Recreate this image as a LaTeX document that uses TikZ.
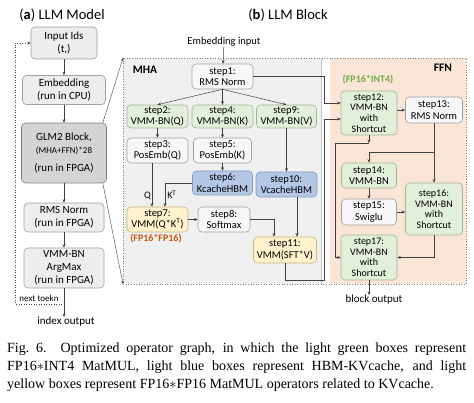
\documentclass[tikz,border=0pt]{standalone}
\usepackage{fontspec}
\setmainfont{Liberation Serif}
\newfontfamily\carl{Carlito}
\usetikzlibrary{arrows.meta}
\definecolor{boxgray}{HTML}{EDEDED}
\definecolor{boxline}{HTML}{A0A0A0}
\definecolor{glmfill}{HTML}{D4D4D4}
\definecolor{glmline}{HTML}{808080}
\definecolor{grfill}{HTML}{E2EFDA}
\definecolor{grline}{HTML}{A3B594}
\definecolor{blfill}{HTML}{B4C7E7}
\definecolor{blline}{HTML}{8198BF}
\definecolor{ylfill}{HTML}{FFF2CC}
\definecolor{ylline}{HTML}{C8B47E}
\definecolor{whfill}{HTML}{F7F7F7}
\definecolor{mhafill}{HTML}{F0F0F0}
\definecolor{ffnfill}{HTML}{FBE5D6}
\definecolor{orng}{HTML}{C55A11}
\definecolor{grtxt}{HTML}{70AD47}
\definecolor{lnc}{HTML}{404040}
\tikzset{
  bx/.style={draw=boxline, line width=0.6pt, rounded corners=4pt, align=center, inner sep=0pt, text=black, fill=whfill, font={\carl\fontsize{10.5}{11.5}\selectfont}},
  bx4/.style={font={\carl\fontsize{10}{10.6}\selectfont}},
  lbox/.style={bx, fill=boxgray, font={\carl\fontsize{11}{13}\selectfont}},
  glmbox/.style={lbox, fill=glmfill, draw=glmline},
  gbox/.style={bx, fill=grfill, draw=grline},
  bbox/.style={bx, fill=blfill, draw=blline},
  ybox/.style={bx, fill=ylfill, draw=ylline},
  wbox/.style={bx, fill=whfill},
  lbl/.style={inner sep=0pt, font={\carl\fontsize{10.5}{12}\selectfont}},
  conn/.style={draw=lnc, line width=0.5pt, -{Stealth[length=3.5pt,width=3pt]}},
  plain/.style={draw=lnc, line width=0.5pt},
}
\begin{document}
\begin{tikzpicture}[x=1pt,y=-1pt]
\useasboundingbox (0,0) rectangle (474,403);
% titles
\node[inner sep=0pt, font={\carl\fontsize{14.5}{16}\selectfont}] (ta) at (62,15) {(\textbf{a}) LLM Model};
\node[inner sep=0pt, font={\carl\fontsize{14.5}{16}\selectfont}] (tb) at (288,15) {(\textbf{b}) LLM Block};
% left panel
\node[lbox, minimum width=66pt, minimum height=32pt] (inp) at (64,43) {Input Ids\\(t,)};
\node[lbox, minimum width=83pt, minimum height=29pt] (emb) at (64,90) {Embedding\\(run in CPU)};
\node[glmbox, minimum width=85pt, minimum height=60pt] (glm) at (64,153) {GLM2 Block,\\{\fontsize{9}{11}\selectfont(MHA+FFN)*28}\\[5pt](run in FPGA)};
\node[lbox, minimum width=80pt, minimum height=29pt] (rms) at (64,217.5) {RMS Norm\\(run in FPGA)};
\node[lbox, minimum width=80pt, minimum height=40pt] (arg) at (64,268) {VMM-BN\\ArgMax\\(run in FPGA)};
\node[lbl, font={\carl\fontsize{11}{13}\selectfont}] (idx) at (66,322) {index output};
\node[lbl, font={\carl\fontsize{9}{11}\selectfont}] (nxt) at (39,298) {next toekn};
\draw[conn] (inp) -- (emb);
\draw[conn] (emb) -- (glm);
\draw[conn] (glm) -- (rms);
\draw[conn] (rms) -- (arg);
\draw[conn] (arg.south) -- (arg.south |- idx.north);
\coordinate (lp) at (64,304);
\coordinate (lx) at (15,0);
\draw[conn, dotted] (lp) -- (lx |- lp) |- (inp.west);
% right panel background
\fill[mhafill] (123,58) rectangle (321,284);
\draw[gray!45, line width=0.5pt] (321,58) -- (321,284);
\fill[ffnfill] (330,58) rectangle (466,284);
\draw[gray, dotted, line width=0.6pt] (123,58) rectangle (466,284);
\coordinate (bnw) at (123,58);
\coordinate (bsw) at (123,284);
\draw[lnc, line width=0.4pt, -{Stealth[length=3pt,width=2.5pt]}] ([xshift=-4pt]glm.north east) -- (bnw);
\draw[lnc, line width=0.4pt, -{Stealth[length=3pt,width=2.5pt]}] ([xshift=-4pt]glm.south east) -- (bsw);
\node[inner sep=0pt, font={\carl\bfseries\fontsize{11.5}{13}\selectfont}] (mha) at (145,70) {MHA};
\node[inner sep=0pt, font={\carl\bfseries\fontsize{11.5}{13}\selectfont}] (ffn) at (443,68) {FFN};
% MHA nodes
\node[lbl] (ein) at (224,42) {Embedding input};
\node[wbox, minimum width=61pt, minimum height=25pt] (s1) at (222.5,76.5) {step1:\\RMS Norm};
\node[gbox, minimum width=61pt, minimum height=23pt] (s2) at (157.5,116.5) {step2:\\VMM-BN(Q)};
\node[gbox, minimum width=61pt, minimum height=23pt] (s4) at (222.5,116.5) {step4:\\VMM-BN(K)};
\node[gbox, minimum width=60pt, minimum height=23pt] (s9) at (286.5,116.5) {step9:\\VMM-BN(V)};
\node[wbox, minimum width=61pt, minimum height=25pt] (s3) at (157.5,150.5) {step3:\\PosEmb(Q)};
\node[wbox, minimum width=58pt, minimum height=25pt] (s5) at (222.5,150.5) {step5:\\PosEmb(K)};
\node[bbox, minimum width=60pt, minimum height=24pt] (s6) at (222.5,183) {step6:\\KcacheHBM};
\node[bbox, minimum width=61pt, minimum height=25pt] (s10) at (286.5,184.5) {step10:\\VcacheHBM};
\node[ybox, minimum width=61pt, minimum height=25pt] (s7) at (157.5,219.5) {step7:\\VMM(Q*K\textsuperscript{T})};
\node[inner sep=0pt, text=orng, font={\carl\bfseries\fontsize{10}{11}\selectfont}] (f16) at (156,239) {(FP16*FP16)};
\node[wbox, minimum width=52pt, minimum height=25pt] (s8) at (224,219.5) {step8:\\Softmax};
\node[ybox, minimum width=63pt, minimum height=26pt] (s11) at (285,250) {step11:\\VMM(SFT*V)};
\draw[conn] (ein) -- (s1);
\draw[conn] (s1.south) -- (s2.north);
\draw[conn] (s1.south) -- (s4.north);
\draw[conn] (s1.south) -- (s9.north);
\draw[conn] (s2) -- (s3);
\draw[conn] (s4) -- (s5);
\draw[conn] (s5) -- (s6);
\draw[conn] (s9) -- (s10);
\draw[conn] ([xshift=-5.5pt]s3.south) -- ([xshift=-5.5pt]s7.north) node[pos=0.75, left=1pt, lbl, font={\carl\fontsize{10}{11}\selectfont}] {Q};
\draw[conn] (s6.west) -| ([xshift=7.5pt]s7.north) node[pos=0.75, right=2pt, lbl, font={\carl\fontsize{10}{11}\selectfont}] {K\textsuperscript{T}};
\draw[conn] (s7) -- (s8);
\draw[conn] (s8.east) -| ([xshift=-11pt]s11.north);
\draw[conn] ([xshift=10.5pt]s10.south) -- ([xshift=10.5pt]s10.south |- s11.north);
% FFN nodes
\node[inner sep=0pt, text=grtxt, font={\carl\bfseries\fontsize{10}{11}\selectfont}] (f4) at (368,80) {(FP16*INT4)};
\node[gbox, bx4, minimum width=56pt, minimum height=44pt] (s12) at (369,113) {step12:\\VMM-BN\\with\\Shortcut};
\node[wbox, minimum width=57pt, minimum height=26pt] (s13) at (434,110) {step13:\\RMS Norm};
\node[gbox, minimum width=55pt, minimum height=25pt] (s14) at (369,175.5) {step14:\\VMM-BN};
\node[wbox, minimum width=55pt, minimum height=26pt] (s15) at (369,212) {step15:\\Swiglu};
\node[gbox, bx4, minimum width=57pt, minimum height=52pt] (s16) at (434,209) {step16:\\VMM-BN\\with\\Shortcut};
\node[gbox, bx4, minimum width=56pt, minimum height=45pt] (s17) at (369,257.5) {step17:\\VMM-BN\\with\\Shortcut};
\node[lbl, font={\carl\fontsize{11}{13}\selectfont}] (bout) at (374,300) {block output};
\coordinate (jx) at (324,0);
\coordinate (by) at (0,280);
\coordinate (kx) at (335,0);
\draw[conn] (s1.east) -- (s1.east -| jx) |- ([yshift=10pt]s12.west);
\draw[conn] (s11.south) |- (jx |- by) |- ([yshift=-6pt]s12.west);
\draw[conn] (s13.west -| s12.east) -- (s13.west);
\coordinate (j1) at (369,143);
\draw[conn] (s12.south) -- (j1);
\draw[conn] (j1) -| (kx |- s17.west) -- (s17.west);
\draw[conn] (s13.south) -- (s16.north);
\coordinate (j2) at (434,152);
\draw[conn] (j2) -| (s14.north);
\draw[conn] (s14) -- (s15);
\draw[conn] (s15.east) -- (s15.east -| s16.west);
\draw[conn] (s16.south) |- (s17.east);
\draw[conn] (s17.south) -- (s17.south |- bout.north);
% caption
\node[anchor=north west, inner sep=0pt, text width=459pt, align=justify, font={\fontsize{14}{18}\selectfont}] (cap) at (7,343) {\parfillskip=0pt Fig.~6.\quad Optimized operator graph, in which the light green boxes represent\linebreak FP16$\ast$INT4 MatMUL, light blue boxes represent HBM-KVcache, and light\linebreak yellow boxes represent FP16$\ast$FP16 MatMUL operators related to KVcache.};
\end{tikzpicture}
\end{document}
